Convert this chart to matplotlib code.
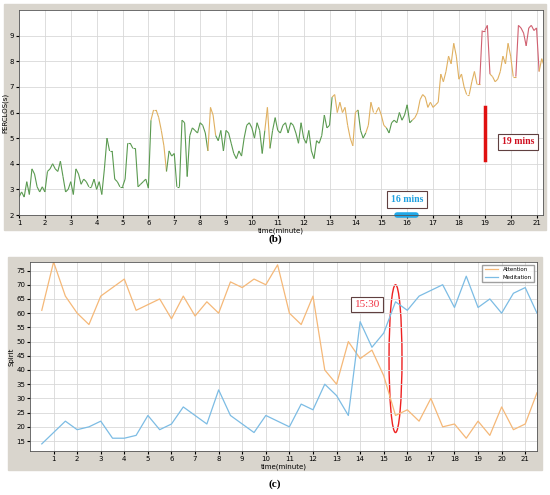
import matplotlib
matplotlib.use("Agg")
import matplotlib.pyplot as plt
import numpy as np
from matplotlib.collections import LineCollection
from matplotlib.patches import Rectangle, Ellipse

# PERCLOS samples every 0.1 minute from 1.0
perclos = [
    2.7, 2.9, 2.7, 3.3, 2.8, 3.8, 3.6, 3.1, 2.9, 3.1,
    2.9, 3.7, 3.8, 4.0, 3.8, 3.7, 4.1, 3.5, 2.9, 3.0,
    3.3, 2.8, 3.8, 3.6, 3.2, 3.4, 3.3, 3.1, 3.1, 3.4,
    3.0, 3.3, 2.8, 3.8, 5.0, 4.5, 4.5, 3.4, 3.3, 3.1,
    3.1, 3.4, 4.8, 4.8, 4.6, 4.6, 3.1, 3.2, 3.3, 3.4,
    3.05, 5.7, 6.1, 6.1, 5.8, 5.3, 4.7, 3.7, 4.5, 4.3,
    4.4, 3.1, 3.1, 5.7, 5.6, 3.5, 5.1, 5.4, 5.3, 5.2,
    5.6, 5.5, 5.2, 4.5, 6.2, 5.9, 5.1, 4.9, 5.3, 4.5,
    5.3, 5.2, 4.8, 4.4, 4.2, 4.5, 4.3, 5.0, 5.5, 5.6,
    5.4, 5.0, 5.6, 5.3, 4.4, 5.3, 6.2, 4.6, 5.3, 5.8,
    5.3, 5.2, 5.5, 5.6, 5.2, 5.6, 5.5, 5.2, 4.8, 5.6,
    5.0, 4.8, 5.3, 4.5, 4.2, 4.9, 4.8, 5.1, 5.9, 5.4,
    5.5, 6.6, 6.7, 6.0, 6.4, 6.0, 6.2, 5.5, 5.0, 4.7,
    6.0, 6.1, 5.3, 5.0, 5.2, 5.5, 6.4, 6.0, 6.0, 6.2,
    5.9, 5.5, 5.4, 5.2, 5.6, 5.7, 5.6, 6.0, 5.7, 5.9,
    6.3, 5.6, 5.7, 5.8, 6.0, 6.5, 6.7, 6.6, 6.2, 6.4,
    6.2, 6.3, 6.4, 7.5, 7.2, 7.6, 8.2, 7.9, 8.7, 8.2,
    7.3, 7.5, 7.0, 6.7, 6.7, 7.2, 7.6, 7.1, 7.1, 9.2,
    9.2, 9.4, 7.5, 7.4, 7.2, 7.3, 7.6, 8.2, 7.9, 8.7,
    8.2, 7.4, 7.4, 9.4, 9.3, 9.1, 8.6, 9.3, 9.4, 9.2,
    9.3, 7.6, 8.1, 7.8,
]
perclos_t = 1.0 + 0.1 * np.arange(len(perclos))
orange_ranges = [(6.15, 6.7), (8.35, 8.55), (10.55, 10.7), (13.15, 14.1), (14.45, 15.2), (16.25, 22)]
red_ranges = [(18.85, 19.2), (20.25, 21.05)]

spirit_t = [0.5 + 0.5 * i for i in range(43)]
attention = [61, 78, 66, 60, 56, 66, 69, 72, 61, 63, 65, 58, 66, 59, 64, 60, 71, 69, 72, 70,
             77, 60, 56, 66, 40, 35, 50, 44, 47, 38, 24, 26, 22, 30, 20, 21, 16, 22, 17, 27,
             19, 21, 32]
meditation = [14, 18, 22, 19, 20, 22, 16, 16, 17, 24, 19, 21, 27, 24, 21, 33, 24, 21, 18, 24,
              22, 20, 28, 26, 35, 31, 24, 57, 48, 53, 64, 61, 66, 68, 70, 62, 73, 62, 65, 60,
              67, 69, 60]

GREEN, ORANGE, RED = "#5a9a50", "#e0b060", "#d06070"


def seg_color(x):
    for a, b in red_ranges:
        if a <= x <= b:
            return RED
    for a, b in orange_ranges:
        if a <= x <= b:
            return ORANGE
    return GREEN


def style_axes(ax):
    ax.grid(True, color="#d8d8d8", linewidth=0.6)
    ax.tick_params(labelsize=5, length=2, pad=1.5)
    for s in ax.spines.values():
        s.set_color("#555555")
        s.set_linewidth(0.6)


fig = plt.figure(figsize=(5.5, 4.95), dpi=100)
fig.patch.set_facecolor("white")
fig.add_artist(Rectangle((4 / 550, 1 - 230 / 495), 542 / 550, 226 / 495,
                         transform=fig.transFigure, color="#d9d5cd", zorder=0))
fig.add_artist(Rectangle((8 / 550, 1 - 470 / 495), 534 / 550, 213 / 495,
                         transform=fig.transFigure, color="#d9d5cd", zorder=0))

# panel (b)
ax1 = fig.add_axes([19 / 550, 1 - 215 / 495, 524 / 550, 205 / 495])
style_axes(ax1)
pts = np.column_stack([perclos_t, perclos])
segs = [pts[i:i + 2] for i in range(len(pts) - 1)]
cols = [seg_color((perclos_t[i] + perclos_t[i + 1]) / 2) for i in range(len(pts) - 1)]
ax1.add_collection(LineCollection(segs, colors=cols, linewidths=0.8))
ax1.set_xlim(1, 21.25)
ax1.set_ylim(2, 10)
ax1.set_xticks(range(1, 22))
ax1.set_yticks(range(2, 10))
ax1.set_ylabel("PERCLOS(s)", fontsize=5, labelpad=1)
ax1.set_xlabel("time(minute)", fontsize=5, labelpad=1)
ax1.plot([19, 19], [4.15, 6.2], color="#e01010", linewidth=2.5)
ax1.text(20.3, 4.85, "19 mins", color="#d01020", fontsize=7, fontweight="bold",
         family="Liberation Serif", ha="center", va="center",
         bbox=dict(boxstyle="square,pad=0.4", fc="white", ec="#604040", lw=0.8))
ax1.plot([15.6, 16.35], [2.0, 2.0], color="#20a8e8", linewidth=4, solid_capstyle="round", clip_on=False)
ax1.text(16.0, 2.6, "16 mins", color="#20a0e0", fontsize=7, fontweight="bold",
         family="Liberation Serif", ha="center", va="center",
         bbox=dict(boxstyle="square,pad=0.4", fc="white", ec="#604040", lw=0.8))
fig.text(0.5, 1 - 239 / 495, "(b)", ha="center", va="center", fontsize=8,
         fontweight="bold", family="Liberation Serif")

# panel (c)
ax2 = fig.add_axes([30 / 550, 1 - 451 / 495, 507 / 550, 189 / 495])
style_axes(ax2)
ax2.plot(spirit_t, attention, color="#f5b878", linewidth=0.9, label="Attention")
ax2.plot(spirit_t, meditation, color="#7cbce4", linewidth=0.9, label="Meditation")
ax2.set_xlim(0, 21.5)
ax2.set_ylim(11.5, 78)
ax2.set_xticks(range(1, 22))
ax2.set_yticks(range(15, 80, 5))
ax2.set_ylabel("Spirit", fontsize=5, labelpad=1)
ax2.set_xlabel("time(minute)", fontsize=5, labelpad=1)
ax2.legend(loc="upper right", fontsize=4, frameon=True, fancybox=False,
           edgecolor="#888888", handlelength=2.5, borderpad=0.4)
ax2.add_patch(Ellipse((15.5, 44), 0.55, 52, fill=False, ec="#ee2020", lw=1.0))
ax2.text(14.3, 63, "15:30", color="#f03040", fontsize=8, family="Liberation Serif",
         ha="center", va="center",
         bbox=dict(boxstyle="square,pad=0.3", fc="white", ec="#604040", lw=0.8))
fig.text(0.5, 1 - 484 / 495, "(c)", ha="center", va="center", fontsize=8,
         fontweight="bold", family="Liberation Serif")

fig.savefig("out.png", dpi=100)
